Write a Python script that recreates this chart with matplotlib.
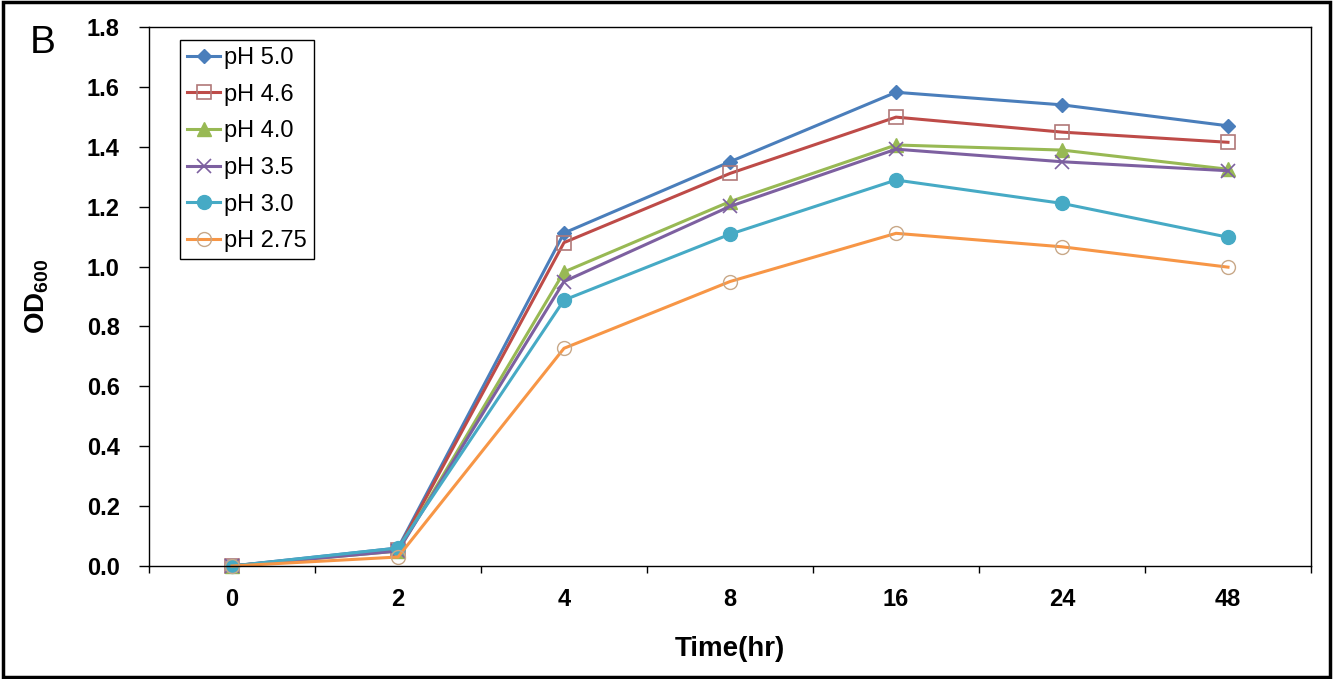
import matplotlib
matplotlib.use("Agg")
import matplotlib.pyplot as plt
from matplotlib.patches import Rectangle

plt.rcParams['font.family'] = ['Liberation Sans', 'DejaVu Sans']
plt.rcParams['mathtext.fontset'] = 'custom'
plt.rcParams['mathtext.rm'] = 'Liberation Sans'
plt.rcParams['mathtext.bf'] = 'Liberation Sans:bold'

time_labels = ['0', '2', '4', '8', '16', '24', '48']
series_names = ['pH 5.0', 'pH 4.6', 'pH 4.0', 'pH 3.5', 'pH 3.0', 'pH 2.75']
ph_5_0 = [0.0, 0.060, 1.112, 1.350, 1.582, 1.540, 1.470]
ph_4_6 = [0.0, 0.055, 1.080, 1.311, 1.499, 1.449, 1.415]
ph_4_0 = [0.0, 0.050, 0.982, 1.217, 1.406, 1.389, 1.325]
ph_3_5 = [0.0, 0.050, 0.950, 1.201, 1.392, 1.350, 1.320]
ph_3_0 = [0.0, 0.060, 0.888, 1.108, 1.289, 1.211, 1.098]
ph_2_75 = [0.0, 0.030, 0.727, 0.950, 1.111, 1.066, 0.998]
y_ticks = [0.0, 0.2, 0.4, 0.6, 0.8, 1.0, 1.2, 1.4, 1.6, 1.8]

all_series = [ph_5_0, ph_4_6, ph_4_0, ph_3_5, ph_3_0, ph_2_75]
colors = ['#4A7EBB', '#BE4B48', '#98B954', '#7D60A0', '#46AAC5', '#F79646']
styles = [
    dict(marker='D', ms=7, mfc='#4A7EBB', mec='#4A7EBB'),
    dict(marker='s', ms=10, mfc='none', mec='#B07878', mew=1.2),
    dict(marker='^', ms=10, mfc='#98B954', mec='#98B954'),
    dict(marker='x', ms=10, mec='#7D60A0', mew=1.2),
    dict(marker='o', ms=10, mfc='#46AAC5', mec='#46AAC5'),
    dict(marker='o', ms=10, mfc='none', mec='#C8A888', mew=1.0),
]

fig = plt.figure(figsize=(13.33, 6.79), dpi=100)
ax = fig.add_axes([149/1333, 1-566/679, 1162/1333, 539/679])

x = list(range(len(time_labels)))
for name, vals, c, st in zip(series_names, all_series, colors, styles):
    ax.plot(x, vals, color=c, lw=2.2, label=name, clip_on=False, **st)

ax.set_xlim(-0.5, len(time_labels)-0.5)
ax.set_ylim(0, 1.8)
ax.set_yticks(y_ticks)
ax.set_yticklabels([f'{v:.1f}' for v in y_ticks], fontsize=17, fontweight='bold')
ax.set_xticks(x)
ax.set_xticklabels(time_labels, fontsize=17, fontweight='bold')
ax.set_xticks([i - 0.5 for i in range(len(time_labels)+1)], minor=True)
ax.tick_params(axis='x', which='major', length=0, pad=16)
ax.tick_params(axis='x', which='minor', length=5, direction='out', width=1)
ax.tick_params(axis='y', which='major', length=7, direction='out', width=1, pad=14)
for s in ax.spines.values():
    s.set_linewidth(1)
    s.set_color('black')

ax.set_xlabel('Time(hr)', fontsize=20, fontweight='bold', labelpad=18)
ax.set_ylabel(r'$\mathbf{OD_{600}}$', fontsize=20, labelpad=26)

leg = ax.legend(loc='upper left', bbox_to_anchor=(0.0267, 0.976), borderaxespad=0,
                fancybox=False, edgecolor='black', framealpha=1, fontsize=17,
                handlelength=1.4, handletextpad=0.15, labelspacing=0.62,
                borderpad=0.3)
leg.get_frame().set_linewidth(1)

fig.text(30/1333, 1-43/679, 'B', fontsize=28, va='center', ha='left')

fig.patches.append(Rectangle((0.002, 0.003), 0.996, 0.994, transform=fig.transFigure,
                             fill=False, edgecolor='black', linewidth=2.5))

fig.savefig('out.png', dpi=100)
